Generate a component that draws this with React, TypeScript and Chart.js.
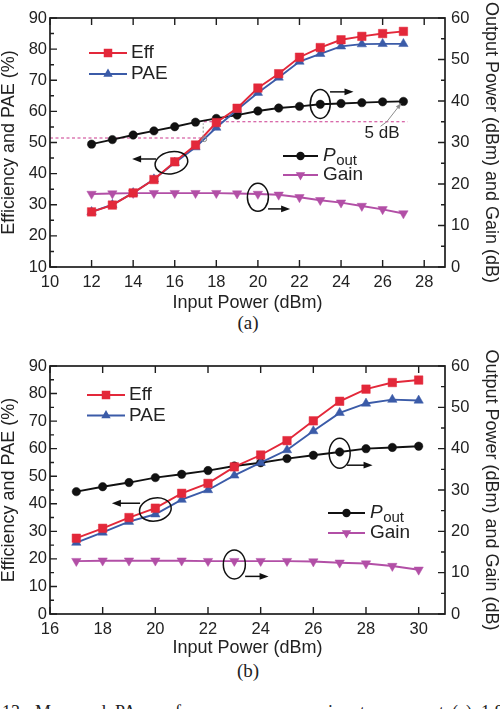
import React, { useEffect, useRef } from 'react';
import { Chart, registerables } from 'chart.js';

Chart.register(...registerables);

// ---------- panel (a) data ----------
const pinA = [12, 13, 14, 15, 16, 17, 18, 19, 20, 21, 22, 23, 24, 25, 26, 27];
const effA = [27.7, 29.9, 33.8, 38.1, 43.8, 49.2, 56.4, 61.0, 67.5, 72.1, 77.4, 80.5, 83.0, 84.1, 85.0, 85.7];
const paeA = [27.7, 30.0, 33.8, 38.2, 43.5, 48.5, 54.8, 60.5, 66.0, 70.9, 76.0, 78.5, 80.9, 81.6, 81.7, 81.7];
const poutA = [29.6, 30.7, 31.8, 32.8, 33.8, 34.9, 35.8, 36.6, 37.6, 38.3, 38.7, 39.2, 39.4, 39.6, 39.8, 39.9];
const gainA = [17.6, 17.7, 17.8, 17.8, 17.8, 17.8, 17.8, 17.7, 17.6, 17.4, 16.8, 16.1, 15.5, 14.7, 13.9, 12.9];
const xTicksA = [10, 12, 14, 16, 18, 20, 22, 24, 26, 28];
const yTicksA = [10, 20, 30, 40, 50, 60, 70, 80, 90];
const yMinorA = [15, 25, 35, 45, 55, 65, 75, 85];

// ---------- panel (b) data ----------
const pinB = [17, 18, 19, 20, 21, 22, 23, 24, 25, 26, 27, 28, 29, 30];
const effB = [27.5, 31.1, 35.0, 38.4, 43.8, 47.4, 53.4, 57.7, 62.9, 70.1, 77.2, 81.6, 84.0, 84.9];
const paeB = [25.9, 29.6, 33.5, 36.2, 41.5, 45.0, 50.3, 54.9, 59.5, 66.4, 73.0, 76.4, 77.8, 77.5];
const poutB = [29.6, 30.8, 31.8, 33.0, 33.8, 34.7, 35.8, 36.6, 37.6, 38.4, 39.2, 40.0, 40.3, 40.6];
const gainB = [12.8, 12.9, 12.9, 12.9, 12.9, 12.8, 12.8, 12.8, 12.8, 12.7, 12.4, 12.2, 11.6, 10.7];
const xTicksB = [16, 18, 20, 22, 24, 26, 28, 30];
const yTicksB = [0, 10, 20, 30, 40, 50, 60, 70, 80, 90];
const yMinorB = [5, 15, 25, 35, 45, 55, 65, 75, 85];

// ---------- shared right axis ----------
const y1Ticks = [0, 10, 20, 30, 40, 50, 60];
const y1Minor = [5, 15, 25, 35, 45, 55];

const FONT = "'Liberation Sans', Arial, Helvetica, sans-serif";
const SERIF = "'Liberation Serif', 'Times New Roman', serif";
const C = {
  eff: '#e3283a',
  pae: '#3b5ba8',
  pout: '#111111',
  gain: '#b24fa6',
  dash: '#cc3a8e',
  gray: '#8c8c8c',
  axis: '#1e1e1e',
  text: '#222222',
};

type Axis = 'y' | 'y1';
type Marker = 'rect' | 'triangle' | 'circle' | 'down';

interface Spec {
  id: string;
  top: number;
  height: number;
  xAxisHeight: number;
  xMin: number;
  xMax: number;
  yMin: number;
  yMax: number;
  pin: number[];
  eff: number[];
  pae: number[];
  pout: number[];
  gain: number[];
  xTicks: number[];
  yTicks: number[];
  yMinor: number[];
  leg1: { x1: number; x2: number; tx: number; ys: number[] };
  leg2: { x1: number; x2: number; tx: number; ys: number[] };
  dashed: { axis: Axis; v: number; x1: number; x2: number }[];
  ellipses: { axis: Axis; x: number; v: number; rx: number; ry: number; rot: number }[];
  arrows: { axis: Axis; x1: number; x2: number; v: number }[];
  extra?: (chart: any, P: (axis: Axis, x: number, v: number) => [number, number]) => void;
}

const R = { rect: 6, triangle: 5.4, circle: 4.2, down: 5.4 };

function drawMarker(ctx: CanvasRenderingContext2D, m: Marker, x: number, y: number, color: string) {
  ctx.fillStyle = color;
  ctx.beginPath();
  if (m === 'rect') {
    const s = R.rect * Math.SQRT1_2;
    ctx.rect(x - s, y - s, 2 * s, 2 * s);
  } else if (m === 'circle') {
    ctx.arc(x, y, R.circle, 0, Math.PI * 2);
  } else {
    const r = m === 'down' ? R.down : R.triangle;
    let a = m === 'down' ? Math.PI : 0;
    for (let i = 0; i < 3; i++) {
      const px = x + Math.sin(a) * r;
      const py = y - Math.cos(a) * r;
      if (i === 0) ctx.moveTo(px, py);
      else ctx.lineTo(px, py);
      a += (2 * Math.PI) / 3;
    }
    ctx.closePath();
  }
  ctx.fill();
}

function arrow(ctx: CanvasRenderingContext2D, x1: number, y1: number, x2: number, y2: number, color: string, lw = 1.5, head = 8) {
  const ang = Math.atan2(y2 - y1, x2 - x1);
  ctx.save();
  ctx.strokeStyle = color;
  ctx.fillStyle = color;
  ctx.lineWidth = lw;
  ctx.beginPath();
  ctx.moveTo(x1, y1);
  ctx.lineTo(x2 - Math.cos(ang) * head * 0.8, y2 - Math.sin(ang) * head * 0.8);
  ctx.stroke();
  ctx.beginPath();
  ctx.moveTo(x2, y2);
  ctx.lineTo(x2 - Math.cos(ang) * head - Math.sin(ang) * head * 0.38, y2 - Math.sin(ang) * head + Math.cos(ang) * head * 0.38);
  ctx.lineTo(x2 - Math.cos(ang) * head + Math.sin(ang) * head * 0.38, y2 - Math.sin(ang) * head - Math.cos(ang) * head * 0.38);
  ctx.closePath();
  ctx.fill();
  ctx.restore();
}

function makeChart(canvas: HTMLCanvasElement, s: Spec) {
  const pts = (ys: number[]) => s.pin.map((x, i) => ({ x, y: ys[i] }));
  const P = (chart: any) => (axis: Axis, x: number, v: number): [number, number] => [
    chart.scales.x.getPixelForValue(x),
    chart.scales[axis].getPixelForValue(v),
  ];

  const ds = (label: string, data: number[], axis: Axis, color: string, style: string, r: number, rotation = 0) => ({
    label,
    data: pts(data),
    yAxisID: axis,
    borderColor: color,
    backgroundColor: color,
    pointBackgroundColor: color,
    pointBorderColor: color,
    pointBorderWidth: 0.5,
    pointStyle: style,
    pointRadius: r,
    pointRotation: rotation,
    borderWidth: 1.9,
    tension: 0,
    fill: false,
  });

  const plugin = {
    id: 'deco' + s.id,
    beforeDatasetsDraw(chart: any) {
      const ctx: CanvasRenderingContext2D = chart.ctx;
      const p = P(chart);
      ctx.save();
      ctx.strokeStyle = C.dash;
      ctx.lineWidth = 1.1;
      ctx.setLineDash([3, 2.5]);
      for (const d of s.dashed) {
        const [a1, b1] = p(d.axis, d.x1, d.v);
        const [a2] = p(d.axis, d.x2, d.v);
        ctx.beginPath();
        ctx.moveTo(a1, b1);
        ctx.lineTo(a2, b1);
        ctx.stroke();
      }
      ctx.restore();
    },
    afterDatasetsDraw(chart: any) {
      const ctx: CanvasRenderingContext2D = chart.ctx;
      const a = chart.chartArea;
      const p = P(chart);
      const sx = chart.scales.x;
      const sy = chart.scales.y;
      const sy1 = chart.scales.y1;

      // annotations
      ctx.save();
      ctx.strokeStyle = '#111';
      ctx.lineWidth = 1.5;
      for (const e of s.ellipses) {
        const [cx, cy] = p(e.axis, e.x, e.v);
        ctx.beginPath();
        ctx.ellipse(cx, cy, e.rx, e.ry, e.rot, 0, Math.PI * 2);
        ctx.stroke();
      }
      ctx.restore();
      for (const ar of s.arrows) {
        const [x1, y1] = p(ar.axis, ar.x1, ar.v);
        const [x2, y2] = p(ar.axis, ar.x2, ar.v);
        arrow(ctx, x1, y1, x2, y2, '#111', 1.5, 9);
      }
      if (s.extra) s.extra(chart, p);

      // frame and inward ticks
      ctx.save();
      ctx.strokeStyle = C.axis;
      ctx.lineWidth = 1.7;
      ctx.strokeRect(a.left, a.top, a.right - a.left, a.bottom - a.top);
      ctx.lineWidth = 1.4;
      ctx.beginPath();
      for (const v of s.xTicks) {
        const x = sx.getPixelForValue(v);
        ctx.moveTo(x, a.bottom);
        ctx.lineTo(x, a.bottom - 7);
        ctx.moveTo(x, a.top);
        ctx.lineTo(x, a.top + 7);
      }
      for (const v of s.yTicks) {
        const y = sy.getPixelForValue(v);
        ctx.moveTo(a.left, y);
        ctx.lineTo(a.left + 7, y);
      }
      for (const v of s.yMinor) {
        const y = sy.getPixelForValue(v);
        ctx.moveTo(a.left, y);
        ctx.lineTo(a.left + 4, y);
      }
      for (const v of y1Ticks) {
        const y = sy1.getPixelForValue(v);
        ctx.moveTo(a.right, y);
        ctx.lineTo(a.right - 7, y);
      }
      for (const v of y1Minor) {
        const y = sy1.getPixelForValue(v);
        ctx.moveTo(a.right, y);
        ctx.lineTo(a.right - 4, y);
      }
      ctx.stroke();
      ctx.restore();

      // legends
      const items1: [string, string, Marker][] = [
        ['Eff', C.eff, 'rect'],
        ['PAE', C.pae, 'triangle'],
      ];
      const items2: [string, string, Marker][] = [
        ['Pout', C.pout, 'circle'],
        ['Gain', C.gain, 'down'],
      ];
      const drawLeg = (L: Spec['leg1'], items: [string, string, Marker][]) => {
        items.forEach(([label, color, m], i) => {
          const y = L.ys[i];
          ctx.save();
          ctx.strokeStyle = color;
          ctx.lineWidth = 1.9;
          ctx.beginPath();
          ctx.moveTo(L.x1, y);
          ctx.lineTo(L.x2, y);
          ctx.stroke();
          drawMarker(ctx, m, (L.x1 + L.x2) / 2, y, color);
          ctx.fillStyle = C.text;
          ctx.textBaseline = 'middle';
          ctx.textAlign = 'left';
          if (label === 'Pout') {
            ctx.font = `italic 19px ${FONT}`;
            ctx.fillText('P', L.tx, y);
            const w = ctx.measureText('P').width;
            ctx.font = `15px ${FONT}`;
            ctx.fillText('out', L.tx + w + 0.5, y + 5);
          } else {
            ctx.font = `19px ${FONT}`;
            ctx.fillText(label, L.tx, y);
          }
          ctx.restore();
        });
      };
      drawLeg(s.leg1, items1);
      drawLeg(s.leg2, items2);
    },
  };

  const tickFont = { family: FONT, size: 16.5 };
  const titleFont = { family: FONT, size: 18, lineHeight: 1 };

  return new Chart(canvas, {
    type: 'line',
    data: {
      datasets: [
        ds('Eff', s.eff, 'y', C.eff, 'rect', R.rect),
        ds('PAE', s.pae, 'y', C.pae, 'triangle', R.triangle),
        ds('Pout', s.pout, 'y1', C.pout, 'circle', R.circle),
        ds('Gain', s.gain, 'y1', C.gain, 'triangle', R.down, 180),
      ] as any,
    },
    options: {
      animation: false,
      responsive: false,
      maintainAspectRatio: false,
      layout: { padding: { top: 18, left: 0, right: 0, bottom: 0 } },
      plugins: { legend: { display: false }, tooltip: { enabled: false } },
      scales: {
        x: {
          type: 'linear',
          min: s.xMin,
          max: s.xMax,
          afterBuildTicks: (sc: any) => {
            sc.ticks = s.xTicks.map((v) => ({ value: v }));
          },
          afterFit: (sc: any) => {
            sc.height = s.xAxisHeight;
          },
          grid: { display: false, drawTicks: false },
          border: { display: false },
          ticks: { color: C.text, font: tickFont, padding: 6, maxRotation: 0, autoSkip: false },
          title: { display: true, text: 'Input Power (dBm)', color: C.text, font: titleFont, padding: { top: 0, bottom: 0 } },
        },
        y: {
          type: 'linear',
          position: 'left',
          min: s.yMin,
          max: s.yMax,
          afterBuildTicks: (sc: any) => {
            sc.ticks = s.yTicks.map((v) => ({ value: v }));
          },
          afterFit: (sc: any) => {
            sc.width = 50;
          },
          grid: { display: false, drawTicks: false },
          border: { display: false },
          ticks: { color: C.text, font: tickFont, padding: 3 },
          title: { display: true, text: 'Efficiency and PAE (%)', color: C.text, font: titleFont, padding: { top: 0, bottom: 0 } },
        },
        y1: {
          type: 'linear',
          position: 'right',
          min: 0,
          max: 60,
          afterBuildTicks: (sc: any) => {
            sc.ticks = y1Ticks.map((v) => ({ value: v }));
          },
          afterFit: (sc: any) => {
            sc.width = 55;
          },
          grid: { display: false, drawTicks: false },
          border: { display: false },
          ticks: { color: C.text, font: tickFont, padding: 6 },
          title: { display: true, text: 'Output Power (dBm) and Gain (dB)', color: C.text, font: titleFont, padding: { top: 0, bottom: 0 } },
        },
      },
    } as any,
    plugins: [plugin],
  });
}

const specA: Spec = {
  id: 'a',
  top: 0,
  height: 312,
  xAxisHeight: 45,
  xMin: 10,
  xMax: 29,
  yMin: 10,
  yMax: 90,
  pin: pinA,
  eff: effA,
  pae: paeA,
  pout: poutA,
  gain: gainA,
  xTicks: xTicksA,
  yTicks: yTicksA,
  yMinor: yMinorA,
  leg1: { x1: 89, x2: 127, tx: 131, ys: [53, 74] },
  leg2: { x1: 283, x2: 318, tx: 323, ys: [156, 175] },
  dashed: [
    { axis: 'y1', v: 31.1, x1: 10, x2: 17.36 },
    { axis: 'y1', v: 35.0, x1: 17.4, x2: 27.2 },
  ],
  ellipses: [
    { axis: 'y', x: 15.84, v: 43.5, rx: 16.5, ry: 11, rot: -0.2 },
    { axis: 'y1', x: 23.0, v: 39.3, rx: 10, ry: 14.5, rot: 0 },
    { axis: 'y1', x: 20.0, v: 16.8, rx: 10.5, ry: 14, rot: 0 },
  ],
  arrows: [
    { axis: 'y', x1: 15.1, x2: 13.95, v: 44.7 },
    { axis: 'y1', x1: 23.47, x2: 24.6, v: 42.2 },
    { axis: 'y1', x1: 20.49, x2: 21.55, v: 14.0 },
  ],
  extra: (chart, p) => {
    const ctx: CanvasRenderingContext2D = chart.ctx;
    // small gray marker between the dashed levels
    const [gx, gy1] = p('y1', 17.37, 31.4);
    const [, gy2] = p('y1', 17.37, 34.6);
    ctx.save();
    ctx.strokeStyle = C.gray;
    ctx.lineWidth = 1;
    ctx.setLineDash([2, 2]);
    ctx.beginPath();
    ctx.moveTo(gx, gy1);
    ctx.lineTo(gx, gy2);
    ctx.stroke();
    ctx.setLineDash([]);
    ctx.beginPath();
    ctx.arc(gx + 1, gy1 + 2.5, 2.5, 0, Math.PI * 2);
    ctx.stroke();
    ctx.restore();
    // 5 dB label and its arrow
    const [t1x, t1y] = p('y1', 25.9, 33.9);
    const [t2x, t2y] = p('y1', 26.2, 35.0);
    const [t3x, t3y] = p('y1', 26.9, 39.5);
    ctx.save();
    ctx.strokeStyle = C.gray;
    ctx.lineWidth = 1;
    ctx.beginPath();
    ctx.moveTo(t1x, t1y);
    ctx.lineTo(t2x, t2y);
    ctx.stroke();
    ctx.restore();
    arrow(ctx, t2x, t2y, t3x, t3y, C.gray, 1, 6);
    const [lx, ly] = p('y1', 25.97, 32.1);
    ctx.save();
    ctx.fillStyle = C.text;
    ctx.font = `17px ${FONT}`;
    ctx.textAlign = 'center';
    ctx.textBaseline = 'middle';
    ctx.fillText('5 dB', lx, ly);
    ctx.restore();
  },
};

const specB: Spec = {
  id: 'b',
  top: 348,
  height: 309,
  xAxisHeight: 43,
  xMin: 16,
  xMax: 31,
  yMin: 0,
  yMax: 90,
  pin: pinB,
  eff: effB,
  pae: paeB,
  pout: poutB,
  gain: gainB,
  xTicks: xTicksB,
  yTicks: yTicksB,
  yMinor: yMinorB,
  leg1: { x1: 87, x2: 125, tx: 129, ys: [47, 67.5] },
  leg2: { x1: 328, x2: 365, tx: 370, ys: [165, 185] },
  dashed: [],
  ellipses: [
    { axis: 'y', x: 20.0, v: 37.9, rx: 16, ry: 11.5, rot: -0.2 },
    { axis: 'y1', x: 27.0, v: 38.9, rx: 10.5, ry: 15, rot: 0 },
    { axis: 'y1', x: 23.0, v: 12.0, rx: 11, ry: 14.5, rot: 0 },
  ],
  arrows: [
    { axis: 'y', x1: 19.42, x2: 18.35, v: 40.2 },
    { axis: 'y1', x1: 27.28, x2: 28.25, v: 36.0 },
    { axis: 'y1', x1: 23.41, x2: 24.3, v: 9.1 },
  ],
};

function Panel({ spec }: { spec: Spec }) {
  const ref = useRef<HTMLCanvasElement>(null);
  useEffect(() => {
    if (!ref.current) return;
    const chart = makeChart(ref.current, spec);
    return () => chart.destroy();
  }, [spec]);
  return (
    <canvas
      ref={ref}
      width={500}
      height={spec.height}
      style={{ position: 'absolute', left: 0, top: spec.top, width: 500, height: spec.height }}
    />
  );
}

const captionWords: [string, number][] = [
  ['13.', 2],
  ['Measured', 35],
  ['PA', 115],
  ['performance', 152],
  ['versus', 267],
  ['input', 328],
  ['power', 380],
  ['at:', 431],
  ['(a)', 452],
  ['1.8', 481],
];

export default function App() {
  return (
    <div
      style={{
        position: 'fixed',
        left: 0,
        top: 0,
        width: 500,
        height: 709,
        overflow: 'hidden',
        background: '#ffffff',
      }}
    >
      <Panel spec={specA} />
      <Panel spec={specB} />
      <div style={{ position: 'absolute', left: 0, width: 496, top: 313, textAlign: 'center', font: `19px/20px ${SERIF}`, color: C.text }}>
        (a)
      </div>
      <div style={{ position: 'absolute', left: 0, width: 496, top: 661, textAlign: 'center', font: `19px/20px ${SERIF}`, color: C.text }}>
        (b)
      </div>
      {captionWords.map(([w, x]) => (
        <span
          key={w + x}
          style={{ position: 'absolute', left: x, top: 703, font: `18px/18px ${SERIF}`, color: C.text, whiteSpace: 'nowrap' }}
        >
          {w}
        </span>
      ))}
    </div>
  );
}
